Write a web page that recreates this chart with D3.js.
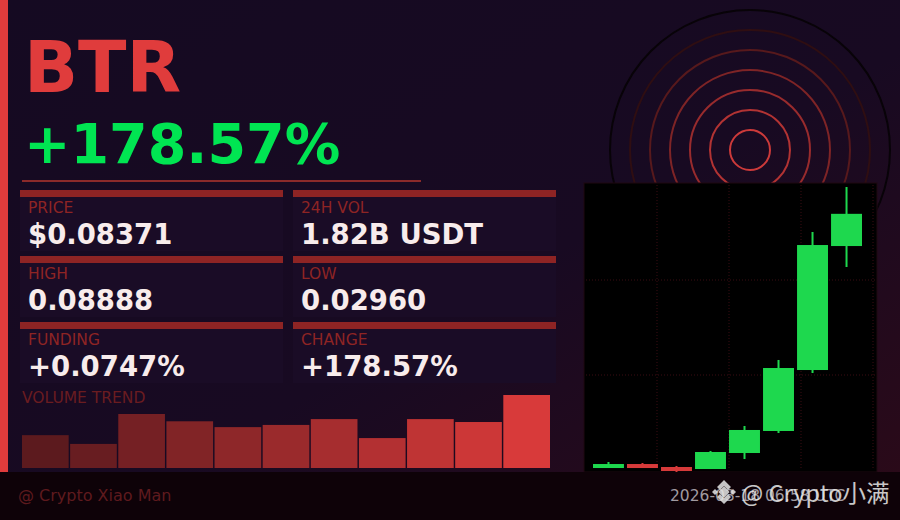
<!DOCTYPE html>
<html><head><meta charset="utf-8">
<script src="https://cdn.jsdelivr.net/npm/d3@7/dist/d3.min.js"></script>
<style>html,body{margin:0;padding:0;background:#150a22;}svg{display:block;font-family:"DejaVu Sans",sans-serif;}</style>
</head><body>
<svg id="c" width="900" height="520"></svg>
<script>
// ---- data ----
const symbol = "BTR";
const changeText = "+178.57%";
const statLabels = ["PRICE", "24H VOL", "HIGH", "LOW", "FUNDING", "CHANGE"];
const statValues = ["$0.08371", "1.82B USDT", "0.08888", "0.02960", "+0.0747%", "+178.57%"];
const volumeValues = [45, 33, 74, 64, 56, 59, 67, 41, 67, 63, 100];
const candleOpen  = [0.03043, 0.03126, 0.03064, 0.03022, 0.03355, 0.03813, 0.05081, 0.07660];
const candleHigh  = [0.03168, 0.03147, 0.03085, 0.03397, 0.03917, 0.05290, 0.07952, 0.08888];
const candleLow   = [0.03043, 0.03043, 0.02960, 0.03022, 0.03230, 0.03771, 0.05019, 0.07224];
const candleClose = [0.03126, 0.03043, 0.02981, 0.03376, 0.03834, 0.05123, 0.07681, 0.08330];
const ringRadii = [20, 40, 60, 80, 100, 120, 140];
const footerLeft = "@ Crypto Xiao Man";
const footerTime = "2026-03-18 06:58 UTC";
const watermark = "@ Crypto小满";

const svg = d3.select("#c");
const defs = svg.append("defs");
const bg = defs.append("linearGradient").attr("id","bg").attr("x1","0").attr("y1","0").attr("x2","1").attr("y2","1");
bg.append("stop").attr("offset","0").attr("stop-color","#150a22");
bg.append("stop").attr("offset","0.55").attr("stop-color","#180a22");
bg.append("stop").attr("offset","1").attr("stop-color","#2c0a18");

svg.append("rect").attr("width",900).attr("height",520).attr("fill","url(#bg)");

// rings
const ringColor = d3.scaleLinear().domain([20, 80, 140]).range(["#cc3a3a", "#7e2426", "#080308"]);
svg.append("g").selectAll("circle").data(ringRadii).join("circle")
  .attr("cx",750).attr("cy",150).attr("r",d=>d)
  .attr("fill","none").attr("stroke",d=>ringColor(d)).attr("stroke-width",2);

// left accent
svg.append("rect").attr("x",0).attr("y",0).attr("width",8).attr("height",472).attr("fill","#e03c3c");

// header
svg.append("text").attr("x",24).attr("y",92).attr("font-size",71).attr("font-weight","bold")
  .attr("fill","#e03c3c").text(symbol);
svg.append("text").attr("x",24).attr("y",163).attr("font-size",55.5).attr("font-weight","bold")
  .attr("fill","#00e552").text(changeText);
svg.append("rect").attr("x",22).attr("y",180).attr("width",399).attr("height",2).attr("fill","#8b2a2a");

// stat boxes
const colX = d3.scaleOrdinal().domain([0,1]).range([20, 293]);
const rowY = d3.scaleLinear().domain([0,1]).range([190, 256]);
const sg = svg.append("g").selectAll("g").data(statLabels).join("g")
  .attr("transform",(d,i)=>`translate(${colX(i%2)},${rowY(Math.floor(i/2))})`);
sg.append("rect").attr("width",263).attr("height",61).attr("fill","#1a0c26");
sg.append("rect").attr("width",263).attr("height",7).attr("fill","#8e2424");
sg.append("text").attr("x",8).attr("y",23).attr("font-size",15.5).attr("fill","#8e2424").text(d=>d);
sg.append("text").attr("x",8).attr("y",54).attr("font-size",27.5).attr("font-weight","bold")
  .attr("fill","#f8ecec").text((d,i)=>statValues[i]);

// volume trend
svg.append("text").attr("x",22).attr("y",403).attr("font-size",15.5).attr("fill","#6a1c20").text("VOLUME TREND");
const vx = d3.scaleBand().domain(d3.range(volumeValues.length)).range([22, 550]).paddingInner(0.03);
const vy = d3.scaleLinear().domain([0, d3.max(volumeValues)]).range([468, 395]);
const vcol = d3.interpolateRgb("#5c1a1e", "#d83a3a");
svg.append("g").selectAll("rect").data(volumeValues).join("rect")
  .attr("x",(d,i)=>vx(i)).attr("width",vx.bandwidth())
  .attr("y",d=>vy(d)).attr("height",d=>vy(0)-vy(d))
  .attr("fill",(d,i)=>vcol(i/(volumeValues.length-1)));

// candle panel
svg.append("rect").attr("x",584).attr("y",183).attr("width",293).attr("height",289)
  .attr("fill","#000").attr("stroke","#1e0810").attr("stroke-width",1);
const gx = d3.scaleLinear().domain([0,4]).range([585, 873]);
const gy = d3.scaleLinear().domain([0,3]).range([185, 470]);
const grid = svg.append("g").attr("stroke","#3a0c12").attr("stroke-width",1).attr("stroke-dasharray","1,2");
grid.selectAll("line.v").data([1,2,3,4]).join("line").attr("class","v")
  .attr("x1",d=>gx(d)).attr("x2",d=>gx(d)).attr("y1",185).attr("y2",470);
grid.selectAll("line.h").data([1,2]).join("line").attr("class","h")
  .attr("y1",d=>gy(d)).attr("y2",d=>gy(d)).attr("x1",586).attr("x2",875);

const cx = d3.scaleBand().domain(d3.range(candleOpen.length)).range([593, 862]).paddingInner(0.09);
const cy = d3.scaleLinear().domain([0.0296, 0.08888]).range([472, 187]);
const up = "#1ed84e", down = "#d63a3a";
const cg = svg.append("g").selectAll("g").data(candleOpen).join("g");
cg.append("rect")
  .attr("x",(d,i)=>cx(i)+cx.bandwidth()/2-1).attr("width",2)
  .attr("y",(d,i)=>cy(candleHigh[i])).attr("height",(d,i)=>cy(candleLow[i])-cy(candleHigh[i]))
  .attr("fill",(d,i)=>candleClose[i]>=d?up:down);
cg.append("rect")
  .attr("x",(d,i)=>cx(i)).attr("width",cx.bandwidth())
  .attr("y",(d,i)=>cy(Math.max(d,candleClose[i])))
  .attr("height",(d,i)=>Math.max(4, Math.abs(cy(d)-cy(candleClose[i]))))
  .attr("fill",(d,i)=>candleClose[i]>=d?up:down);

// footer
svg.append("rect").attr("x",0).attr("y",472).attr("width",900).attr("height",48).attr("fill","#0e0208");
svg.append("text").attr("x",18).attr("y",501).attr("font-size",16).attr("fill","#5e1a1e").text(footerLeft);
svg.append("text").attr("x",670).attr("y",501).attr("font-size",15.5).attr("fill","#a09aa0").text(footerTime);

// watermark (overlays the timestamp, as in the reference image)
const wm = svg.append("g").attr("opacity",0.85);
const logo = wm.append("g").attr("transform","translate(724,492)").attr("fill","#e6e6e6");
logo.append("rect").attr("x",-4).attr("y",-4).attr("width",8).attr("height",8).attr("transform","rotate(45)");
logo.append("path").attr("d","M0,-12 L7,-5 L4,-2 L0,-6 L-4,-2 L-7,-5 Z");
logo.append("path").attr("d","M0,12 L7,5 L4,2 L0,6 L-4,2 L-7,5 Z");
logo.append("path").attr("d","M-12,0 L-9,-3 L-6,0 L-9,3 Z");
logo.append("path").attr("d","M12,0 L9,-3 L6,0 L9,3 Z");
wm.append("text").attr("x",741).attr("y",502).attr("font-size",23.5)
  .attr("font-family","'Noto Sans CJK SC','DejaVu Sans',sans-serif").attr("fill","#eaeaea").text(watermark);
</script>
</body></html>
